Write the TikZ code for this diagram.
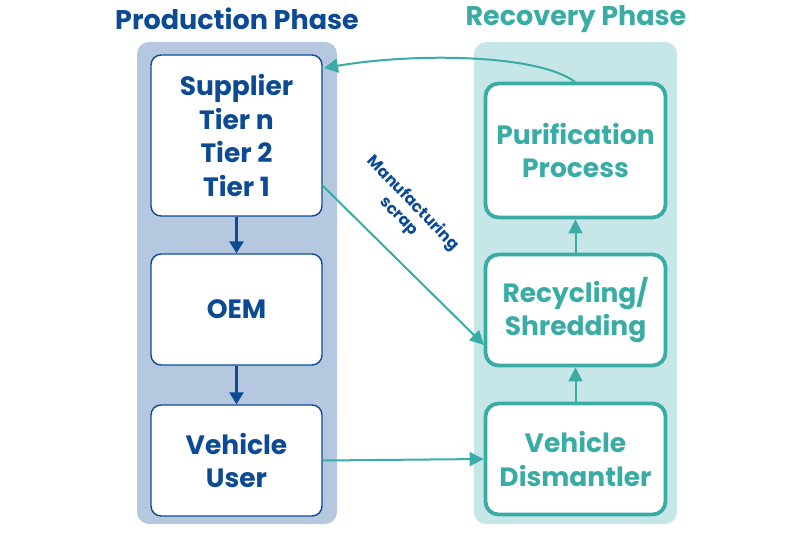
\documentclass[tikz,border=0pt]{standalone}
\usepackage{fontspec}
\setmainfont{Poppins}
\usetikzlibrary{arrows.meta}
\definecolor{pblue}{HTML}{0D4A94}
\definecolor{pbg}{HTML}{B5C8E0}
\definecolor{rteal}{HTML}{3AACA6}
\definecolor{rbg}{HTML}{C6E6E8}
\tikzset{
  panel/.style={rounded corners=12pt, draw=none},
  pbox/.style={draw=pblue, line width=1.4pt, fill=white, rounded corners=10pt, text=pblue, font=\fontsize{26.5}{33.5}\selectfont\bfseries, align=center},
  rbox/.style={draw=rteal, line width=3.8pt, fill=white, rounded corners=13pt, text=rteal, font=\fontsize{26.5}{33.5}\selectfont\bfseries, align=center},
  barrow/.style={draw=pblue, line width=2.6pt, -{Triangle[length=12pt,width=14pt]}},
  tarrow/.style={draw=rteal, line width=2pt, -{Triangle[length=14pt,width=14pt]}},
  title/.style={font=\fontsize{27}{30}\selectfont\bfseries}
}
\begin{document}
\begin{tikzpicture}[x=1pt,y=-1pt]
\useasboundingbox (0,0) rectangle (800,537);
\fill[pbg, panel] (137,42) rectangle (337,524);
\fill[rbg, panel] (474,42) rectangle (677,524);
\node[title, text=pblue] (ptitle) at (237,19) {Production Phase};
\node[title, text=rteal] (rtitle) at (576,19) {Recovery Phase};
\node[pbox, minimum width=171pt, minimum height=161pt] (sup) at (236.5,135.5) {Supplier\\Tier n\\Tier 2\\Tier 1};
\node[pbox, minimum width=171pt, minimum height=111pt] (oem) at (236.5,309.5) {OEM};
\node[pbox, minimum width=171pt, minimum height=111pt] (user) at (236.5,460.5) {Vehicle\\User};
\node[rbox, minimum width=180pt, minimum height=134pt] (pur) at (575.5,150.5) {Purification\\Process};
\node[rbox, minimum width=180pt, minimum height=111pt] (rec) at (575.5,310) {Recycling/\\Shredding};
\node[rbox, minimum width=180pt, minimum height=111pt] (dis) at (575.5,459) {Vehicle\\Dismantler};
\draw[barrow] (sup.south) -- (oem.north);
\draw[barrow] (oem.south) -- (user.north);
\draw[tarrow] (dis.north) -- (rec.south);
\draw[tarrow] (rec.north) -- (pur.south);
\draw[tarrow] (user.east) -- (dis.west);
\coordinate (scrapA) at (322,185);
\coordinate (scrapB) at (484,345);
\draw[tarrow] (scrapA) -- (scrapB);
\node[text=pblue, font=\fontsize{16}{19}\selectfont\bfseries, align=center, rotate=-46, inner sep=0pt] (scraplbl) at (406,210) {Manufacturing\\scrap};
\coordinate (curA) at (575,82);
\coordinate (curB) at (324,68);
\draw[tarrow] (curA) .. controls (540,55) and (420,52) .. (curB);
\end{tikzpicture}
\end{document}
